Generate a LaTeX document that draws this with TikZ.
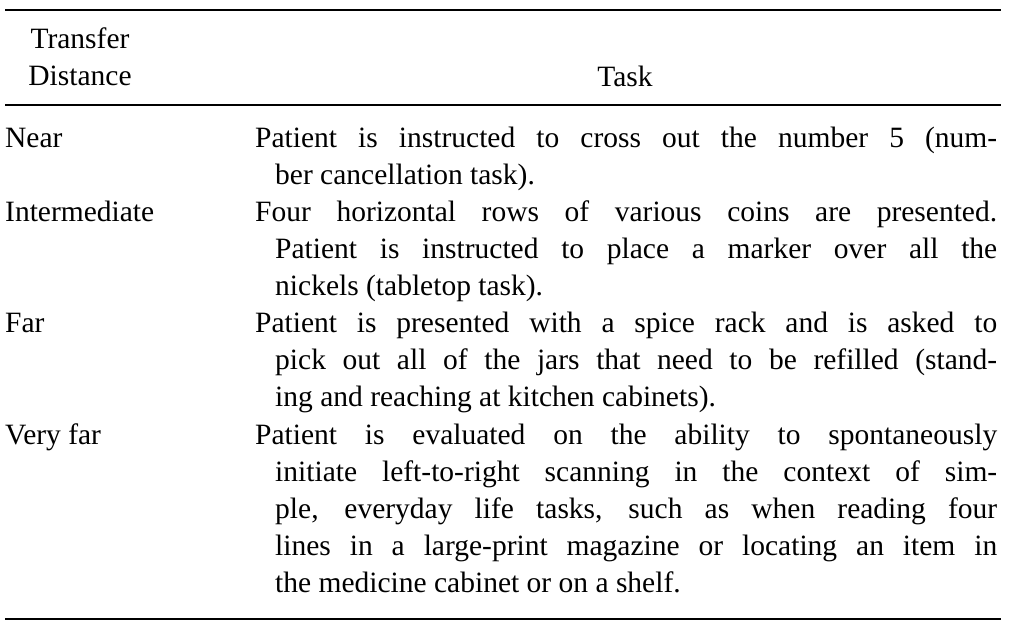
\documentclass[tikz,border=0pt]{standalone}
\usepackage{fontspec}
\setmainfont{Liberation Serif}
\begin{document}
\begin{tikzpicture}[x=1pt,y=-1pt,
  cell/.style={anchor=base west,inner sep=0pt,font=\fontsize{29.5}{37}\selectfont},
  rule/.style={line width=#1}]
\useasboundingbox (0,0) rectangle (1023,628);
\draw[rule=2.2pt] (5,10) -- (1001,10);
\draw[rule=1.3pt] (5,105) -- (1001,105);
\draw[rule=1.3pt] (5,619) -- (1001,619);
\node[cell,anchor=center,align=center] (h1) at (80,57) {Transfer\\Distance};
\node[cell,anchor=center] (h2) at (625,76) {Task};
\newcommand{\taskpar}[1]{\parbox[t]{742pt}{\hangindent=20pt\hangafter=1 #1}}
\node[cell] (a1) at (5,148) {Near};
\node[cell] (a2) at (5,222) {Intermediate};
\node[cell] (a3) at (5,333) {Far};
\node[cell] (a4) at (5,444) {Very far};
\node[cell] (b1) at (255,148) {\taskpar{Patient is instructed to cross out the number 5 (num-\linebreak ber cancellation task).}};
\node[cell] (b2) at (255,222) {\taskpar{Four horizontal rows of various coins are presented.\linebreak Patient is instructed to place a marker over all the\linebreak nickels (tabletop task).}};
\node[cell] (b3) at (255,333) {\taskpar{Patient is presented with a spice rack and is asked to\linebreak pick out all of the jars that need to be refilled (stand-\linebreak ing and reaching at kitchen cabinets).}};
\node[cell] (b4) at (255,444) {\taskpar{Patient is evaluated on the ability to spontaneously\linebreak initiate left-to-right scanning in the context of sim-\linebreak ple, everyday life tasks, such as when reading four\linebreak lines in a large-print magazine or locating an item in\linebreak the medicine cabinet or on a shelf.}};
\end{tikzpicture}
\end{document}
